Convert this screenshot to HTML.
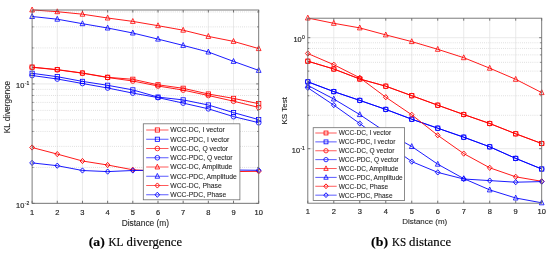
<!DOCTYPE html><html><head><meta charset="utf-8"><style>html,body{margin:0;padding:0;background:#fff;width:550px;height:253px;overflow:hidden}svg{display:block;font-family:"Liberation Sans",sans-serif}</style></head><body><div style="will-change:transform;width:550px;height:253px"><svg width="550" height="253" viewBox="0 0 550 253"><line x1="57.28" y1="10.0" x2="57.28" y2="203.3" stroke="#e3e3e3" stroke-width="0.8"/>
<line x1="82.46" y1="10.0" x2="82.46" y2="203.3" stroke="#e3e3e3" stroke-width="0.8"/>
<line x1="107.63" y1="10.0" x2="107.63" y2="203.3" stroke="#e3e3e3" stroke-width="0.8"/>
<line x1="132.81" y1="10.0" x2="132.81" y2="203.3" stroke="#e3e3e3" stroke-width="0.8"/>
<line x1="157.99" y1="10.0" x2="157.99" y2="203.3" stroke="#e3e3e3" stroke-width="0.8"/>
<line x1="183.17" y1="10.0" x2="183.17" y2="203.3" stroke="#e3e3e3" stroke-width="0.8"/>
<line x1="208.34" y1="10.0" x2="208.34" y2="203.3" stroke="#e3e3e3" stroke-width="0.8"/>
<line x1="233.52" y1="10.0" x2="233.52" y2="203.3" stroke="#e3e3e3" stroke-width="0.8"/>
<line x1="32.1" y1="203.40" x2="258.7" y2="203.40" stroke="#e3e3e3" stroke-width="0.8"/>
<line x1="32.1" y1="203.40" x2="34.6" y2="203.40" stroke="#555" stroke-width="0.8"/>
<line x1="256.2" y1="203.40" x2="258.7" y2="203.40" stroke="#555" stroke-width="0.8"/>
<line x1="32.1" y1="167.43" x2="258.7" y2="167.43" stroke="#cfcfcf" stroke-width="0.8" stroke-dasharray="0.8 1.3"/>
<line x1="32.1" y1="167.43" x2="33.6" y2="167.43" stroke="#555" stroke-width="0.8"/>
<line x1="257.2" y1="167.43" x2="258.7" y2="167.43" stroke="#555" stroke-width="0.8"/>
<line x1="32.1" y1="146.38" x2="258.7" y2="146.38" stroke="#cfcfcf" stroke-width="0.8" stroke-dasharray="0.8 1.3"/>
<line x1="32.1" y1="146.38" x2="33.6" y2="146.38" stroke="#555" stroke-width="0.8"/>
<line x1="257.2" y1="146.38" x2="258.7" y2="146.38" stroke="#555" stroke-width="0.8"/>
<line x1="32.1" y1="131.45" x2="258.7" y2="131.45" stroke="#cfcfcf" stroke-width="0.8" stroke-dasharray="0.8 1.3"/>
<line x1="32.1" y1="131.45" x2="33.6" y2="131.45" stroke="#555" stroke-width="0.8"/>
<line x1="257.2" y1="131.45" x2="258.7" y2="131.45" stroke="#555" stroke-width="0.8"/>
<line x1="32.1" y1="119.87" x2="258.7" y2="119.87" stroke="#cfcfcf" stroke-width="0.8" stroke-dasharray="0.8 1.3"/>
<line x1="32.1" y1="119.87" x2="33.6" y2="119.87" stroke="#555" stroke-width="0.8"/>
<line x1="257.2" y1="119.87" x2="258.7" y2="119.87" stroke="#555" stroke-width="0.8"/>
<line x1="32.1" y1="110.41" x2="258.7" y2="110.41" stroke="#cfcfcf" stroke-width="0.8" stroke-dasharray="0.8 1.3"/>
<line x1="32.1" y1="110.41" x2="33.6" y2="110.41" stroke="#555" stroke-width="0.8"/>
<line x1="257.2" y1="110.41" x2="258.7" y2="110.41" stroke="#555" stroke-width="0.8"/>
<line x1="32.1" y1="102.41" x2="258.7" y2="102.41" stroke="#cfcfcf" stroke-width="0.8" stroke-dasharray="0.8 1.3"/>
<line x1="32.1" y1="102.41" x2="33.6" y2="102.41" stroke="#555" stroke-width="0.8"/>
<line x1="257.2" y1="102.41" x2="258.7" y2="102.41" stroke="#555" stroke-width="0.8"/>
<line x1="32.1" y1="95.48" x2="258.7" y2="95.48" stroke="#cfcfcf" stroke-width="0.8" stroke-dasharray="0.8 1.3"/>
<line x1="32.1" y1="95.48" x2="33.6" y2="95.48" stroke="#555" stroke-width="0.8"/>
<line x1="257.2" y1="95.48" x2="258.7" y2="95.48" stroke="#555" stroke-width="0.8"/>
<line x1="32.1" y1="89.37" x2="258.7" y2="89.37" stroke="#cfcfcf" stroke-width="0.8" stroke-dasharray="0.8 1.3"/>
<line x1="32.1" y1="89.37" x2="33.6" y2="89.37" stroke="#555" stroke-width="0.8"/>
<line x1="257.2" y1="89.37" x2="258.7" y2="89.37" stroke="#555" stroke-width="0.8"/>
<line x1="32.1" y1="83.90" x2="258.7" y2="83.90" stroke="#e3e3e3" stroke-width="0.8"/>
<line x1="32.1" y1="83.90" x2="34.6" y2="83.90" stroke="#555" stroke-width="0.8"/>
<line x1="256.2" y1="83.90" x2="258.7" y2="83.90" stroke="#555" stroke-width="0.8"/>
<line x1="32.1" y1="47.93" x2="258.7" y2="47.93" stroke="#cfcfcf" stroke-width="0.8" stroke-dasharray="0.8 1.3"/>
<line x1="32.1" y1="47.93" x2="33.6" y2="47.93" stroke="#555" stroke-width="0.8"/>
<line x1="257.2" y1="47.93" x2="258.7" y2="47.93" stroke="#555" stroke-width="0.8"/>
<line x1="32.1" y1="26.88" x2="258.7" y2="26.88" stroke="#cfcfcf" stroke-width="0.8" stroke-dasharray="0.8 1.3"/>
<line x1="32.1" y1="26.88" x2="33.6" y2="26.88" stroke="#555" stroke-width="0.8"/>
<line x1="257.2" y1="26.88" x2="258.7" y2="26.88" stroke="#555" stroke-width="0.8"/>
<line x1="32.1" y1="11.95" x2="258.7" y2="11.95" stroke="#cfcfcf" stroke-width="0.8" stroke-dasharray="0.8 1.3"/>
<line x1="32.1" y1="11.95" x2="33.6" y2="11.95" stroke="#555" stroke-width="0.8"/>
<line x1="257.2" y1="11.95" x2="258.7" y2="11.95" stroke="#555" stroke-width="0.8"/>
<line x1="32.10" y1="203.3" x2="32.10" y2="200.8" stroke="#555" stroke-width="0.8"/>
<line x1="32.10" y1="10.0" x2="32.10" y2="12.5" stroke="#555" stroke-width="0.8"/>
<line x1="57.28" y1="203.3" x2="57.28" y2="200.8" stroke="#555" stroke-width="0.8"/>
<line x1="57.28" y1="10.0" x2="57.28" y2="12.5" stroke="#555" stroke-width="0.8"/>
<line x1="82.46" y1="203.3" x2="82.46" y2="200.8" stroke="#555" stroke-width="0.8"/>
<line x1="82.46" y1="10.0" x2="82.46" y2="12.5" stroke="#555" stroke-width="0.8"/>
<line x1="107.63" y1="203.3" x2="107.63" y2="200.8" stroke="#555" stroke-width="0.8"/>
<line x1="107.63" y1="10.0" x2="107.63" y2="12.5" stroke="#555" stroke-width="0.8"/>
<line x1="132.81" y1="203.3" x2="132.81" y2="200.8" stroke="#555" stroke-width="0.8"/>
<line x1="132.81" y1="10.0" x2="132.81" y2="12.5" stroke="#555" stroke-width="0.8"/>
<line x1="157.99" y1="203.3" x2="157.99" y2="200.8" stroke="#555" stroke-width="0.8"/>
<line x1="157.99" y1="10.0" x2="157.99" y2="12.5" stroke="#555" stroke-width="0.8"/>
<line x1="183.17" y1="203.3" x2="183.17" y2="200.8" stroke="#555" stroke-width="0.8"/>
<line x1="183.17" y1="10.0" x2="183.17" y2="12.5" stroke="#555" stroke-width="0.8"/>
<line x1="208.34" y1="203.3" x2="208.34" y2="200.8" stroke="#555" stroke-width="0.8"/>
<line x1="208.34" y1="10.0" x2="208.34" y2="12.5" stroke="#555" stroke-width="0.8"/>
<line x1="233.52" y1="203.3" x2="233.52" y2="200.8" stroke="#555" stroke-width="0.8"/>
<line x1="233.52" y1="10.0" x2="233.52" y2="12.5" stroke="#555" stroke-width="0.8"/>
<line x1="258.70" y1="203.3" x2="258.70" y2="200.8" stroke="#555" stroke-width="0.8"/>
<line x1="258.70" y1="10.0" x2="258.70" y2="12.5" stroke="#555" stroke-width="0.8"/>
<polyline points="32.10,67.10 57.28,69.60 82.46,73.00 107.63,77.30 132.81,79.30 157.99,84.80 183.17,88.30 208.34,94.00 233.52,98.40 258.70,103.70" fill="none" stroke="#ff0000" stroke-width="0.9"/>
<rect x="29.98" y="64.97" width="4.25" height="4.25" fill="none" stroke="#ff0000" stroke-width="0.8"/><rect x="55.15" y="67.47" width="4.25" height="4.25" fill="none" stroke="#ff0000" stroke-width="0.8"/><rect x="80.33" y="70.88" width="4.25" height="4.25" fill="none" stroke="#ff0000" stroke-width="0.8"/><rect x="105.51" y="75.17" width="4.25" height="4.25" fill="none" stroke="#ff0000" stroke-width="0.8"/><rect x="130.69" y="77.17" width="4.25" height="4.25" fill="none" stroke="#ff0000" stroke-width="0.8"/><rect x="155.86" y="82.67" width="4.25" height="4.25" fill="none" stroke="#ff0000" stroke-width="0.8"/><rect x="181.04" y="86.17" width="4.25" height="4.25" fill="none" stroke="#ff0000" stroke-width="0.8"/><rect x="206.22" y="91.88" width="4.25" height="4.25" fill="none" stroke="#ff0000" stroke-width="0.8"/><rect x="231.40" y="96.28" width="4.25" height="4.25" fill="none" stroke="#ff0000" stroke-width="0.8"/><rect x="256.57" y="101.58" width="4.25" height="4.25" fill="none" stroke="#ff0000" stroke-width="0.8"/>
<polyline points="32.10,73.30 57.28,76.70 82.46,81.40 107.63,85.30 132.81,89.90 157.99,97.10 183.17,99.90 208.34,105.00 233.52,112.60 258.70,119.60" fill="none" stroke="#0000ff" stroke-width="0.9"/>
<rect x="29.98" y="71.17" width="4.25" height="4.25" fill="none" stroke="#0000ff" stroke-width="0.8"/><rect x="55.15" y="74.58" width="4.25" height="4.25" fill="none" stroke="#0000ff" stroke-width="0.8"/><rect x="80.33" y="79.28" width="4.25" height="4.25" fill="none" stroke="#0000ff" stroke-width="0.8"/><rect x="105.51" y="83.17" width="4.25" height="4.25" fill="none" stroke="#0000ff" stroke-width="0.8"/><rect x="130.69" y="87.78" width="4.25" height="4.25" fill="none" stroke="#0000ff" stroke-width="0.8"/><rect x="155.86" y="94.97" width="4.25" height="4.25" fill="none" stroke="#0000ff" stroke-width="0.8"/><rect x="181.04" y="97.78" width="4.25" height="4.25" fill="none" stroke="#0000ff" stroke-width="0.8"/><rect x="206.22" y="102.88" width="4.25" height="4.25" fill="none" stroke="#0000ff" stroke-width="0.8"/><rect x="231.40" y="110.47" width="4.25" height="4.25" fill="none" stroke="#0000ff" stroke-width="0.8"/><rect x="256.57" y="117.47" width="4.25" height="4.25" fill="none" stroke="#0000ff" stroke-width="0.8"/>
<polyline points="32.10,67.30 57.28,69.80 82.46,73.20 107.63,77.50 132.81,81.00 157.99,86.00 183.17,90.10 208.34,95.50 233.52,101.20 258.70,107.40" fill="none" stroke="#ff0000" stroke-width="0.9"/>
<circle cx="32.10" cy="67.30" r="2.38" fill="none" stroke="#ff0000" stroke-width="0.8"/><circle cx="57.28" cy="69.80" r="2.38" fill="none" stroke="#ff0000" stroke-width="0.8"/><circle cx="82.46" cy="73.20" r="2.38" fill="none" stroke="#ff0000" stroke-width="0.8"/><circle cx="107.63" cy="77.50" r="2.38" fill="none" stroke="#ff0000" stroke-width="0.8"/><circle cx="132.81" cy="81.00" r="2.38" fill="none" stroke="#ff0000" stroke-width="0.8"/><circle cx="157.99" cy="86.00" r="2.38" fill="none" stroke="#ff0000" stroke-width="0.8"/><circle cx="183.17" cy="90.10" r="2.38" fill="none" stroke="#ff0000" stroke-width="0.8"/><circle cx="208.34" cy="95.50" r="2.38" fill="none" stroke="#ff0000" stroke-width="0.8"/><circle cx="233.52" cy="101.20" r="2.38" fill="none" stroke="#ff0000" stroke-width="0.8"/><circle cx="258.70" cy="107.40" r="2.38" fill="none" stroke="#ff0000" stroke-width="0.8"/>
<polyline points="32.10,75.50 57.28,79.00 82.46,83.50 107.63,88.00 132.81,93.10 157.99,97.60 183.17,103.10 208.34,108.80 233.52,116.60 258.70,122.70" fill="none" stroke="#0000ff" stroke-width="0.9"/>
<circle cx="32.10" cy="75.50" r="2.38" fill="none" stroke="#0000ff" stroke-width="0.8"/><circle cx="57.28" cy="79.00" r="2.38" fill="none" stroke="#0000ff" stroke-width="0.8"/><circle cx="82.46" cy="83.50" r="2.38" fill="none" stroke="#0000ff" stroke-width="0.8"/><circle cx="107.63" cy="88.00" r="2.38" fill="none" stroke="#0000ff" stroke-width="0.8"/><circle cx="132.81" cy="93.10" r="2.38" fill="none" stroke="#0000ff" stroke-width="0.8"/><circle cx="157.99" cy="97.60" r="2.38" fill="none" stroke="#0000ff" stroke-width="0.8"/><circle cx="183.17" cy="103.10" r="2.38" fill="none" stroke="#0000ff" stroke-width="0.8"/><circle cx="208.34" cy="108.80" r="2.38" fill="none" stroke="#0000ff" stroke-width="0.8"/><circle cx="233.52" cy="116.60" r="2.38" fill="none" stroke="#0000ff" stroke-width="0.8"/><circle cx="258.70" cy="122.70" r="2.38" fill="none" stroke="#0000ff" stroke-width="0.8"/>
<polyline points="32.10,9.90 57.28,11.70 82.46,14.20 107.63,18.00 132.81,21.40 157.99,25.70 183.17,30.20 208.34,36.40 233.52,41.40 258.70,48.60" fill="none" stroke="#ff0000" stroke-width="0.9"/>
<polygon points="32.10,7.03 34.48,11.90 29.73,11.90" fill="none" stroke="#ff0000" stroke-width="0.8"/><polygon points="57.28,8.82 59.65,13.70 54.90,13.70" fill="none" stroke="#ff0000" stroke-width="0.8"/><polygon points="82.46,11.32 84.83,16.20 80.08,16.20" fill="none" stroke="#ff0000" stroke-width="0.8"/><polygon points="107.63,15.12 110.01,20.00 105.26,20.00" fill="none" stroke="#ff0000" stroke-width="0.8"/><polygon points="132.81,18.52 135.19,23.40 130.44,23.40" fill="none" stroke="#ff0000" stroke-width="0.8"/><polygon points="157.99,22.82 160.36,27.70 155.61,27.70" fill="none" stroke="#ff0000" stroke-width="0.8"/><polygon points="183.17,27.32 185.54,32.20 180.79,32.20" fill="none" stroke="#ff0000" stroke-width="0.8"/><polygon points="208.34,33.52 210.72,38.40 205.97,38.40" fill="none" stroke="#ff0000" stroke-width="0.8"/><polygon points="233.52,38.52 235.90,43.40 231.15,43.40" fill="none" stroke="#ff0000" stroke-width="0.8"/><polygon points="258.70,45.73 261.07,50.60 256.32,50.60" fill="none" stroke="#ff0000" stroke-width="0.8"/>
<polyline points="32.10,16.50 57.28,19.20 82.46,23.70 107.63,28.00 132.81,33.00 157.99,39.10 183.17,45.40 208.34,52.00 233.52,61.40 258.70,70.40" fill="none" stroke="#0000ff" stroke-width="0.9"/>
<polygon points="32.10,13.62 34.48,18.50 29.73,18.50" fill="none" stroke="#0000ff" stroke-width="0.8"/><polygon points="57.28,16.32 59.65,21.20 54.90,21.20" fill="none" stroke="#0000ff" stroke-width="0.8"/><polygon points="82.46,20.82 84.83,25.70 80.08,25.70" fill="none" stroke="#0000ff" stroke-width="0.8"/><polygon points="107.63,25.12 110.01,30.00 105.26,30.00" fill="none" stroke="#0000ff" stroke-width="0.8"/><polygon points="132.81,30.12 135.19,35.00 130.44,35.00" fill="none" stroke="#0000ff" stroke-width="0.8"/><polygon points="157.99,36.23 160.36,41.10 155.61,41.10" fill="none" stroke="#0000ff" stroke-width="0.8"/><polygon points="183.17,42.52 185.54,47.40 180.79,47.40" fill="none" stroke="#0000ff" stroke-width="0.8"/><polygon points="208.34,49.12 210.72,54.00 205.97,54.00" fill="none" stroke="#0000ff" stroke-width="0.8"/><polygon points="233.52,58.52 235.90,63.40 231.15,63.40" fill="none" stroke="#0000ff" stroke-width="0.8"/><polygon points="258.70,67.53 261.07,72.40 256.32,72.40" fill="none" stroke="#0000ff" stroke-width="0.8"/>
<polyline points="32.10,147.50 57.28,154.10 82.46,161.00 107.63,165.00 132.81,169.80 157.99,171.20 183.17,171.50 208.34,171.60 233.52,171.60 258.70,171.30" fill="none" stroke="#ff0000" stroke-width="0.9"/>
<polygon points="32.10,144.88 34.48,147.50 32.10,150.12 29.73,147.50" fill="none" stroke="#ff0000" stroke-width="0.9"/><polygon points="57.28,151.47 59.65,154.10 57.28,156.72 54.90,154.10" fill="none" stroke="#ff0000" stroke-width="0.9"/><polygon points="82.46,158.38 84.83,161.00 82.46,163.62 80.08,161.00" fill="none" stroke="#ff0000" stroke-width="0.9"/><polygon points="107.63,162.38 110.01,165.00 107.63,167.62 105.26,165.00" fill="none" stroke="#ff0000" stroke-width="0.9"/><polygon points="132.81,167.18 135.19,169.80 132.81,172.43 130.44,169.80" fill="none" stroke="#ff0000" stroke-width="0.9"/><polygon points="157.99,168.57 160.36,171.20 157.99,173.82 155.61,171.20" fill="none" stroke="#ff0000" stroke-width="0.9"/><polygon points="183.17,168.88 185.54,171.50 183.17,174.12 180.79,171.50" fill="none" stroke="#ff0000" stroke-width="0.9"/><polygon points="208.34,168.97 210.72,171.60 208.34,174.22 205.97,171.60" fill="none" stroke="#ff0000" stroke-width="0.9"/><polygon points="233.52,168.97 235.90,171.60 233.52,174.22 231.15,171.60" fill="none" stroke="#ff0000" stroke-width="0.9"/><polygon points="258.70,168.68 261.07,171.30 258.70,173.93 256.32,171.30" fill="none" stroke="#ff0000" stroke-width="0.9"/>
<polyline points="32.10,162.90 57.28,165.70 82.46,170.50 107.63,171.60 132.81,170.50 157.99,170.20 183.17,170.00 208.34,170.00 233.52,170.00 258.70,170.30" fill="none" stroke="#0000ff" stroke-width="0.9"/>
<polygon points="32.10,160.28 34.48,162.90 32.10,165.53 29.73,162.90" fill="none" stroke="#0000ff" stroke-width="0.9"/><polygon points="57.28,163.07 59.65,165.70 57.28,168.32 54.90,165.70" fill="none" stroke="#0000ff" stroke-width="0.9"/><polygon points="82.46,167.88 84.83,170.50 82.46,173.12 80.08,170.50" fill="none" stroke="#0000ff" stroke-width="0.9"/><polygon points="107.63,168.97 110.01,171.60 107.63,174.22 105.26,171.60" fill="none" stroke="#0000ff" stroke-width="0.9"/><polygon points="132.81,167.88 135.19,170.50 132.81,173.12 130.44,170.50" fill="none" stroke="#0000ff" stroke-width="0.9"/><polygon points="157.99,167.57 160.36,170.20 157.99,172.82 155.61,170.20" fill="none" stroke="#0000ff" stroke-width="0.9"/><polygon points="183.17,167.38 185.54,170.00 183.17,172.62 180.79,170.00" fill="none" stroke="#0000ff" stroke-width="0.9"/><polygon points="208.34,167.38 210.72,170.00 208.34,172.62 205.97,170.00" fill="none" stroke="#0000ff" stroke-width="0.9"/><polygon points="233.52,167.38 235.90,170.00 233.52,172.62 231.15,170.00" fill="none" stroke="#0000ff" stroke-width="0.9"/><polygon points="258.70,167.68 261.07,170.30 258.70,172.93 256.32,170.30" fill="none" stroke="#0000ff" stroke-width="0.9"/>
<rect x="32.1" y="10.0" width="226.6" height="193.3" fill="none" stroke="#6e6e6e" stroke-width="0.9"/>
<text x="32.10" y="214.6" font-size="7.5" text-anchor="middle" fill="#262626" stroke="#262626" stroke-width="0.18">1</text>
<text x="57.28" y="214.6" font-size="7.5" text-anchor="middle" fill="#262626" stroke="#262626" stroke-width="0.18">2</text>
<text x="82.46" y="214.6" font-size="7.5" text-anchor="middle" fill="#262626" stroke="#262626" stroke-width="0.18">3</text>
<text x="107.63" y="214.6" font-size="7.5" text-anchor="middle" fill="#262626" stroke="#262626" stroke-width="0.18">4</text>
<text x="132.81" y="214.6" font-size="7.5" text-anchor="middle" fill="#262626" stroke="#262626" stroke-width="0.18">5</text>
<text x="157.99" y="214.6" font-size="7.5" text-anchor="middle" fill="#262626" stroke="#262626" stroke-width="0.18">6</text>
<text x="183.17" y="214.6" font-size="7.5" text-anchor="middle" fill="#262626" stroke="#262626" stroke-width="0.18">7</text>
<text x="208.34" y="214.6" font-size="7.5" text-anchor="middle" fill="#262626" stroke="#262626" stroke-width="0.18">8</text>
<text x="233.52" y="214.6" font-size="7.5" text-anchor="middle" fill="#262626" stroke="#262626" stroke-width="0.18">9</text>
<text x="258.70" y="214.6" font-size="7.5" text-anchor="middle" fill="#262626" stroke="#262626" stroke-width="0.18">10</text>
<text x="29.200000000000003" y="207.70" font-size="7.4" text-anchor="end" fill="#262626" stroke="#262626" stroke-width="0.18">10<tspan dx="0.4" dy="-3.1" font-size="5.0">-2</tspan></text>
<text x="29.200000000000003" y="88.20" font-size="7.4" text-anchor="end" fill="#262626" stroke="#262626" stroke-width="0.18">10<tspan dx="0.4" dy="-3.1" font-size="5.0">-1</tspan></text>
<text x="145.40" y="225.5" font-size="8.4" text-anchor="middle" fill="#262626" stroke="#262626" stroke-width="0.1">Distance (m)</text>
<text transform="translate(10.2,107.15) rotate(-90)" x="0" y="0" font-size="8.25" text-anchor="middle" fill="#262626" stroke="#262626" stroke-width="0.1">KL divergence</text>
<rect x="143.3" y="123.8" width="96.6" height="76.00000000000001" fill="#fff" stroke="#6e6e6e" stroke-width="0.8"/>
<line x1="146.2" y1="130.00" x2="168.5" y2="130.00" stroke="#ff0000" stroke-width="0.65"/>
<rect x="155.27" y="127.92" width="4.17" height="4.17" fill="none" stroke="#ff0000" stroke-width="0.8"/>
<text x="170.3" y="132.45" font-size="6.8" fill="#262626" stroke="#262626" stroke-width="0.08" >WCC-DC, I vector</text>
<line x1="146.2" y1="139.25" x2="168.5" y2="139.25" stroke="#0000ff" stroke-width="0.65"/>
<rect x="155.27" y="137.17" width="4.17" height="4.17" fill="none" stroke="#0000ff" stroke-width="0.8"/>
<text x="170.3" y="141.70" font-size="6.8" fill="#262626" stroke="#262626" stroke-width="0.08" >WCC-PDC, I vector</text>
<line x1="146.2" y1="148.50" x2="168.5" y2="148.50" stroke="#ff0000" stroke-width="0.65"/>
<circle cx="157.35" cy="148.50" r="2.33" fill="none" stroke="#ff0000" stroke-width="0.8"/>
<text x="170.3" y="150.95" font-size="6.8" fill="#262626" stroke="#262626" stroke-width="0.08" >WCC-DC, Q vector</text>
<line x1="146.2" y1="157.75" x2="168.5" y2="157.75" stroke="#0000ff" stroke-width="0.65"/>
<circle cx="157.35" cy="157.75" r="2.33" fill="none" stroke="#0000ff" stroke-width="0.8"/>
<text x="170.3" y="160.20" font-size="6.8" fill="#262626" stroke="#262626" stroke-width="0.08" >WCC-PDC, Q vector</text>
<line x1="146.2" y1="167.00" x2="168.5" y2="167.00" stroke="#ff0000" stroke-width="0.65"/>
<polygon points="157.35,164.18 159.68,168.96 155.02,168.96" fill="none" stroke="#ff0000" stroke-width="0.8"/>
<text x="170.3" y="169.45" font-size="6.8" fill="#262626" stroke="#262626" stroke-width="0.08" >WCC-DC, Amplitude</text>
<line x1="146.2" y1="176.25" x2="168.5" y2="176.25" stroke="#0000ff" stroke-width="0.65"/>
<polygon points="157.35,173.43 159.68,178.21 155.02,178.21" fill="none" stroke="#0000ff" stroke-width="0.8"/>
<text x="170.3" y="178.70" font-size="6.8" fill="#262626" stroke="#262626" stroke-width="0.08" >WCC-PDC, Amplitude</text>
<line x1="146.2" y1="185.50" x2="168.5" y2="185.50" stroke="#ff0000" stroke-width="0.65"/>
<polygon points="157.35,182.93 159.68,185.50 157.35,188.07 155.02,185.50" fill="none" stroke="#ff0000" stroke-width="0.9"/>
<text x="170.3" y="187.95" font-size="6.8" fill="#262626" stroke="#262626" stroke-width="0.08" >WCC-DC, Phase</text>
<line x1="146.2" y1="194.75" x2="168.5" y2="194.75" stroke="#0000ff" stroke-width="0.65"/>
<polygon points="157.35,192.18 159.68,194.75 157.35,197.32 155.02,194.75" fill="none" stroke="#0000ff" stroke-width="0.9"/>
<text x="170.3" y="197.20" font-size="6.8" fill="#262626" stroke="#262626" stroke-width="0.08" >WCC-PDC, Phase</text>
<line x1="333.79" y1="18.2" x2="333.79" y2="203.2" stroke="#e3e3e3" stroke-width="0.8"/>
<line x1="359.78" y1="18.2" x2="359.78" y2="203.2" stroke="#e3e3e3" stroke-width="0.8"/>
<line x1="385.77" y1="18.2" x2="385.77" y2="203.2" stroke="#e3e3e3" stroke-width="0.8"/>
<line x1="411.76" y1="18.2" x2="411.76" y2="203.2" stroke="#e3e3e3" stroke-width="0.8"/>
<line x1="437.74" y1="18.2" x2="437.74" y2="203.2" stroke="#e3e3e3" stroke-width="0.8"/>
<line x1="463.73" y1="18.2" x2="463.73" y2="203.2" stroke="#e3e3e3" stroke-width="0.8"/>
<line x1="489.72" y1="18.2" x2="489.72" y2="203.2" stroke="#e3e3e3" stroke-width="0.8"/>
<line x1="515.71" y1="18.2" x2="515.71" y2="203.2" stroke="#e3e3e3" stroke-width="0.8"/>
<line x1="307.8" y1="148.70" x2="541.7" y2="148.70" stroke="#e3e3e3" stroke-width="0.8"/>
<line x1="307.8" y1="148.70" x2="310.3" y2="148.70" stroke="#555" stroke-width="0.8"/>
<line x1="539.2" y1="148.70" x2="541.7" y2="148.70" stroke="#555" stroke-width="0.8"/>
<line x1="307.8" y1="115.29" x2="541.7" y2="115.29" stroke="#cfcfcf" stroke-width="0.8" stroke-dasharray="0.8 1.3"/>
<line x1="307.8" y1="115.29" x2="309.3" y2="115.29" stroke="#555" stroke-width="0.8"/>
<line x1="540.2" y1="115.29" x2="541.7" y2="115.29" stroke="#555" stroke-width="0.8"/>
<line x1="307.8" y1="95.74" x2="541.7" y2="95.74" stroke="#cfcfcf" stroke-width="0.8" stroke-dasharray="0.8 1.3"/>
<line x1="307.8" y1="95.74" x2="309.3" y2="95.74" stroke="#555" stroke-width="0.8"/>
<line x1="540.2" y1="95.74" x2="541.7" y2="95.74" stroke="#555" stroke-width="0.8"/>
<line x1="307.8" y1="81.87" x2="541.7" y2="81.87" stroke="#cfcfcf" stroke-width="0.8" stroke-dasharray="0.8 1.3"/>
<line x1="307.8" y1="81.87" x2="309.3" y2="81.87" stroke="#555" stroke-width="0.8"/>
<line x1="540.2" y1="81.87" x2="541.7" y2="81.87" stroke="#555" stroke-width="0.8"/>
<line x1="307.8" y1="71.11" x2="541.7" y2="71.11" stroke="#cfcfcf" stroke-width="0.8" stroke-dasharray="0.8 1.3"/>
<line x1="307.8" y1="71.11" x2="309.3" y2="71.11" stroke="#555" stroke-width="0.8"/>
<line x1="540.2" y1="71.11" x2="541.7" y2="71.11" stroke="#555" stroke-width="0.8"/>
<line x1="307.8" y1="62.33" x2="541.7" y2="62.33" stroke="#cfcfcf" stroke-width="0.8" stroke-dasharray="0.8 1.3"/>
<line x1="307.8" y1="62.33" x2="309.3" y2="62.33" stroke="#555" stroke-width="0.8"/>
<line x1="540.2" y1="62.33" x2="541.7" y2="62.33" stroke="#555" stroke-width="0.8"/>
<line x1="307.8" y1="54.89" x2="541.7" y2="54.89" stroke="#cfcfcf" stroke-width="0.8" stroke-dasharray="0.8 1.3"/>
<line x1="307.8" y1="54.89" x2="309.3" y2="54.89" stroke="#555" stroke-width="0.8"/>
<line x1="540.2" y1="54.89" x2="541.7" y2="54.89" stroke="#555" stroke-width="0.8"/>
<line x1="307.8" y1="48.46" x2="541.7" y2="48.46" stroke="#cfcfcf" stroke-width="0.8" stroke-dasharray="0.8 1.3"/>
<line x1="307.8" y1="48.46" x2="309.3" y2="48.46" stroke="#555" stroke-width="0.8"/>
<line x1="540.2" y1="48.46" x2="541.7" y2="48.46" stroke="#555" stroke-width="0.8"/>
<line x1="307.8" y1="42.78" x2="541.7" y2="42.78" stroke="#cfcfcf" stroke-width="0.8" stroke-dasharray="0.8 1.3"/>
<line x1="307.8" y1="42.78" x2="309.3" y2="42.78" stroke="#555" stroke-width="0.8"/>
<line x1="540.2" y1="42.78" x2="541.7" y2="42.78" stroke="#555" stroke-width="0.8"/>
<line x1="307.8" y1="37.70" x2="541.7" y2="37.70" stroke="#e3e3e3" stroke-width="0.8"/>
<line x1="307.8" y1="37.70" x2="310.3" y2="37.70" stroke="#555" stroke-width="0.8"/>
<line x1="539.2" y1="37.70" x2="541.7" y2="37.70" stroke="#555" stroke-width="0.8"/>
<line x1="307.80" y1="203.2" x2="307.80" y2="200.7" stroke="#555" stroke-width="0.8"/>
<line x1="307.80" y1="18.2" x2="307.80" y2="20.7" stroke="#555" stroke-width="0.8"/>
<line x1="333.79" y1="203.2" x2="333.79" y2="200.7" stroke="#555" stroke-width="0.8"/>
<line x1="333.79" y1="18.2" x2="333.79" y2="20.7" stroke="#555" stroke-width="0.8"/>
<line x1="359.78" y1="203.2" x2="359.78" y2="200.7" stroke="#555" stroke-width="0.8"/>
<line x1="359.78" y1="18.2" x2="359.78" y2="20.7" stroke="#555" stroke-width="0.8"/>
<line x1="385.77" y1="203.2" x2="385.77" y2="200.7" stroke="#555" stroke-width="0.8"/>
<line x1="385.77" y1="18.2" x2="385.77" y2="20.7" stroke="#555" stroke-width="0.8"/>
<line x1="411.76" y1="203.2" x2="411.76" y2="200.7" stroke="#555" stroke-width="0.8"/>
<line x1="411.76" y1="18.2" x2="411.76" y2="20.7" stroke="#555" stroke-width="0.8"/>
<line x1="437.74" y1="203.2" x2="437.74" y2="200.7" stroke="#555" stroke-width="0.8"/>
<line x1="437.74" y1="18.2" x2="437.74" y2="20.7" stroke="#555" stroke-width="0.8"/>
<line x1="463.73" y1="203.2" x2="463.73" y2="200.7" stroke="#555" stroke-width="0.8"/>
<line x1="463.73" y1="18.2" x2="463.73" y2="20.7" stroke="#555" stroke-width="0.8"/>
<line x1="489.72" y1="203.2" x2="489.72" y2="200.7" stroke="#555" stroke-width="0.8"/>
<line x1="489.72" y1="18.2" x2="489.72" y2="20.7" stroke="#555" stroke-width="0.8"/>
<line x1="515.71" y1="203.2" x2="515.71" y2="200.7" stroke="#555" stroke-width="0.8"/>
<line x1="515.71" y1="18.2" x2="515.71" y2="20.7" stroke="#555" stroke-width="0.8"/>
<line x1="541.70" y1="203.2" x2="541.70" y2="200.7" stroke="#555" stroke-width="0.8"/>
<line x1="541.70" y1="18.2" x2="541.70" y2="20.7" stroke="#555" stroke-width="0.8"/>
<polyline points="307.80,61.20 333.79,69.00 359.78,79.00 385.77,86.20 411.76,95.70 437.74,105.20 463.73,114.50 489.72,123.50 515.71,133.80 541.70,143.50" fill="none" stroke="#ff0000" stroke-width="0.9"/>
<rect x="305.68" y="59.08" width="4.25" height="4.25" fill="none" stroke="#ff0000" stroke-width="0.8"/><rect x="331.66" y="66.88" width="4.25" height="4.25" fill="none" stroke="#ff0000" stroke-width="0.8"/><rect x="357.65" y="76.88" width="4.25" height="4.25" fill="none" stroke="#ff0000" stroke-width="0.8"/><rect x="383.64" y="84.08" width="4.25" height="4.25" fill="none" stroke="#ff0000" stroke-width="0.8"/><rect x="409.63" y="93.58" width="4.25" height="4.25" fill="none" stroke="#ff0000" stroke-width="0.8"/><rect x="435.62" y="103.08" width="4.25" height="4.25" fill="none" stroke="#ff0000" stroke-width="0.8"/><rect x="461.61" y="112.38" width="4.25" height="4.25" fill="none" stroke="#ff0000" stroke-width="0.8"/><rect x="487.60" y="121.38" width="4.25" height="4.25" fill="none" stroke="#ff0000" stroke-width="0.8"/><rect x="513.59" y="131.68" width="4.25" height="4.25" fill="none" stroke="#ff0000" stroke-width="0.8"/><rect x="539.58" y="141.38" width="4.25" height="4.25" fill="none" stroke="#ff0000" stroke-width="0.8"/>
<polyline points="307.80,81.80 333.79,91.60 359.78,100.40 385.77,109.40 411.76,119.20 437.74,128.20 463.73,137.20 489.72,146.80 515.71,158.40 541.70,169.00" fill="none" stroke="#0000ff" stroke-width="0.9"/>
<rect x="305.68" y="79.67" width="4.25" height="4.25" fill="none" stroke="#0000ff" stroke-width="0.8"/><rect x="331.66" y="89.47" width="4.25" height="4.25" fill="none" stroke="#0000ff" stroke-width="0.8"/><rect x="357.65" y="98.28" width="4.25" height="4.25" fill="none" stroke="#0000ff" stroke-width="0.8"/><rect x="383.64" y="107.28" width="4.25" height="4.25" fill="none" stroke="#0000ff" stroke-width="0.8"/><rect x="409.63" y="117.08" width="4.25" height="4.25" fill="none" stroke="#0000ff" stroke-width="0.8"/><rect x="435.62" y="126.07" width="4.25" height="4.25" fill="none" stroke="#0000ff" stroke-width="0.8"/><rect x="461.61" y="135.07" width="4.25" height="4.25" fill="none" stroke="#0000ff" stroke-width="0.8"/><rect x="487.60" y="144.68" width="4.25" height="4.25" fill="none" stroke="#0000ff" stroke-width="0.8"/><rect x="513.59" y="156.28" width="4.25" height="4.25" fill="none" stroke="#0000ff" stroke-width="0.8"/><rect x="539.58" y="166.88" width="4.25" height="4.25" fill="none" stroke="#0000ff" stroke-width="0.8"/>
<polyline points="307.80,61.20 333.79,69.00 359.78,79.00 385.77,86.20 411.76,95.70 437.74,105.20 463.73,114.50 489.72,123.50 515.71,133.80 541.70,143.50" fill="none" stroke="#ff0000" stroke-width="0.9"/>
<circle cx="307.80" cy="61.20" r="2.38" fill="none" stroke="#ff0000" stroke-width="0.8"/><circle cx="333.79" cy="69.00" r="2.38" fill="none" stroke="#ff0000" stroke-width="0.8"/><circle cx="359.78" cy="79.00" r="2.38" fill="none" stroke="#ff0000" stroke-width="0.8"/><circle cx="385.77" cy="86.20" r="2.38" fill="none" stroke="#ff0000" stroke-width="0.8"/><circle cx="411.76" cy="95.70" r="2.38" fill="none" stroke="#ff0000" stroke-width="0.8"/><circle cx="437.74" cy="105.20" r="2.38" fill="none" stroke="#ff0000" stroke-width="0.8"/><circle cx="463.73" cy="114.50" r="2.38" fill="none" stroke="#ff0000" stroke-width="0.8"/><circle cx="489.72" cy="123.50" r="2.38" fill="none" stroke="#ff0000" stroke-width="0.8"/><circle cx="515.71" cy="133.80" r="2.38" fill="none" stroke="#ff0000" stroke-width="0.8"/><circle cx="541.70" cy="143.50" r="2.38" fill="none" stroke="#ff0000" stroke-width="0.8"/>
<polyline points="307.80,81.80 333.79,91.60 359.78,100.40 385.77,109.40 411.76,119.20 437.74,128.20 463.73,137.20 489.72,146.80 515.71,158.40 541.70,169.00" fill="none" stroke="#0000ff" stroke-width="0.9"/>
<circle cx="307.80" cy="81.80" r="2.38" fill="none" stroke="#0000ff" stroke-width="0.8"/><circle cx="333.79" cy="91.60" r="2.38" fill="none" stroke="#0000ff" stroke-width="0.8"/><circle cx="359.78" cy="100.40" r="2.38" fill="none" stroke="#0000ff" stroke-width="0.8"/><circle cx="385.77" cy="109.40" r="2.38" fill="none" stroke="#0000ff" stroke-width="0.8"/><circle cx="411.76" cy="119.20" r="2.38" fill="none" stroke="#0000ff" stroke-width="0.8"/><circle cx="437.74" cy="128.20" r="2.38" fill="none" stroke="#0000ff" stroke-width="0.8"/><circle cx="463.73" cy="137.20" r="2.38" fill="none" stroke="#0000ff" stroke-width="0.8"/><circle cx="489.72" cy="146.80" r="2.38" fill="none" stroke="#0000ff" stroke-width="0.8"/><circle cx="515.71" cy="158.40" r="2.38" fill="none" stroke="#0000ff" stroke-width="0.8"/><circle cx="541.70" cy="169.00" r="2.38" fill="none" stroke="#0000ff" stroke-width="0.8"/>
<polyline points="307.80,18.00 333.79,23.30 359.78,27.90 385.77,34.90 411.76,41.60 437.74,49.30 463.73,57.70 489.72,68.20 515.71,79.30 541.70,92.60" fill="none" stroke="#ff0000" stroke-width="0.9"/>
<polygon points="307.80,15.12 310.18,20.00 305.43,20.00" fill="none" stroke="#ff0000" stroke-width="0.8"/><polygon points="333.79,20.43 336.16,25.30 331.41,25.30" fill="none" stroke="#ff0000" stroke-width="0.8"/><polygon points="359.78,25.02 362.15,29.90 357.40,29.90" fill="none" stroke="#ff0000" stroke-width="0.8"/><polygon points="385.77,32.02 388.14,36.90 383.39,36.90" fill="none" stroke="#ff0000" stroke-width="0.8"/><polygon points="411.76,38.73 414.13,43.60 409.38,43.60" fill="none" stroke="#ff0000" stroke-width="0.8"/><polygon points="437.74,46.42 440.12,51.30 435.37,51.30" fill="none" stroke="#ff0000" stroke-width="0.8"/><polygon points="463.73,54.83 466.11,59.70 461.36,59.70" fill="none" stroke="#ff0000" stroke-width="0.8"/><polygon points="489.72,65.33 492.10,70.20 487.35,70.20" fill="none" stroke="#ff0000" stroke-width="0.8"/><polygon points="515.71,76.42 518.09,81.30 513.34,81.30" fill="none" stroke="#ff0000" stroke-width="0.8"/><polygon points="541.70,89.72 544.08,94.60 539.33,94.60" fill="none" stroke="#ff0000" stroke-width="0.8"/>
<polyline points="307.80,85.40 333.79,99.00 359.78,114.60 385.77,132.00 411.76,146.50 437.74,164.20 463.73,178.60 489.72,189.90 515.71,198.00 541.70,202.80" fill="none" stroke="#0000ff" stroke-width="0.9"/>
<polygon points="307.80,82.53 310.18,87.40 305.43,87.40" fill="none" stroke="#0000ff" stroke-width="0.8"/><polygon points="333.79,96.12 336.16,101.00 331.41,101.00" fill="none" stroke="#0000ff" stroke-width="0.8"/><polygon points="359.78,111.72 362.15,116.60 357.40,116.60" fill="none" stroke="#0000ff" stroke-width="0.8"/><polygon points="385.77,129.12 388.14,134.00 383.39,134.00" fill="none" stroke="#0000ff" stroke-width="0.8"/><polygon points="411.76,143.62 414.13,148.50 409.38,148.50" fill="none" stroke="#0000ff" stroke-width="0.8"/><polygon points="437.74,161.32 440.12,166.20 435.37,166.20" fill="none" stroke="#0000ff" stroke-width="0.8"/><polygon points="463.73,175.72 466.11,180.60 461.36,180.60" fill="none" stroke="#0000ff" stroke-width="0.8"/><polygon points="489.72,187.03 492.10,191.90 487.35,191.90" fill="none" stroke="#0000ff" stroke-width="0.8"/><polygon points="515.71,195.12 518.09,200.00 513.34,200.00" fill="none" stroke="#0000ff" stroke-width="0.8"/><polygon points="541.70,199.93 544.08,204.80 539.33,204.80" fill="none" stroke="#0000ff" stroke-width="0.8"/>
<polyline points="307.80,53.50 333.79,64.70 359.78,77.80 385.77,97.20 411.76,114.80 437.74,135.30 463.73,153.60 489.72,167.80 515.71,176.80 541.70,181.30" fill="none" stroke="#ff0000" stroke-width="0.9"/>
<polygon points="307.80,50.88 310.18,53.50 307.80,56.12 305.43,53.50" fill="none" stroke="#ff0000" stroke-width="0.9"/><polygon points="333.79,62.08 336.16,64.70 333.79,67.33 331.41,64.70" fill="none" stroke="#ff0000" stroke-width="0.9"/><polygon points="359.78,75.17 362.15,77.80 359.78,80.42 357.40,77.80" fill="none" stroke="#ff0000" stroke-width="0.9"/><polygon points="385.77,94.58 388.14,97.20 385.77,99.83 383.39,97.20" fill="none" stroke="#ff0000" stroke-width="0.9"/><polygon points="411.76,112.17 414.13,114.80 411.76,117.42 409.38,114.80" fill="none" stroke="#ff0000" stroke-width="0.9"/><polygon points="437.74,132.68 440.12,135.30 437.74,137.93 435.37,135.30" fill="none" stroke="#ff0000" stroke-width="0.9"/><polygon points="463.73,150.97 466.11,153.60 463.73,156.22 461.36,153.60" fill="none" stroke="#ff0000" stroke-width="0.9"/><polygon points="489.72,165.18 492.10,167.80 489.72,170.43 487.35,167.80" fill="none" stroke="#ff0000" stroke-width="0.9"/><polygon points="515.71,174.18 518.09,176.80 515.71,179.43 513.34,176.80" fill="none" stroke="#ff0000" stroke-width="0.9"/><polygon points="541.70,178.68 544.08,181.30 541.70,183.93 539.33,181.30" fill="none" stroke="#ff0000" stroke-width="0.9"/>
<polyline points="307.80,87.80 333.79,105.10 359.78,123.50 385.77,143.00 411.76,161.60 437.74,172.40 463.73,179.00 489.72,180.60 515.71,182.20 541.70,181.60" fill="none" stroke="#0000ff" stroke-width="0.9"/>
<polygon points="307.80,85.17 310.18,87.80 307.80,90.42 305.43,87.80" fill="none" stroke="#0000ff" stroke-width="0.9"/><polygon points="333.79,102.47 336.16,105.10 333.79,107.72 331.41,105.10" fill="none" stroke="#0000ff" stroke-width="0.9"/><polygon points="359.78,120.88 362.15,123.50 359.78,126.12 357.40,123.50" fill="none" stroke="#0000ff" stroke-width="0.9"/><polygon points="385.77,140.38 388.14,143.00 385.77,145.62 383.39,143.00" fill="none" stroke="#0000ff" stroke-width="0.9"/><polygon points="411.76,158.97 414.13,161.60 411.76,164.22 409.38,161.60" fill="none" stroke="#0000ff" stroke-width="0.9"/><polygon points="437.74,169.78 440.12,172.40 437.74,175.03 435.37,172.40" fill="none" stroke="#0000ff" stroke-width="0.9"/><polygon points="463.73,176.38 466.11,179.00 463.73,181.62 461.36,179.00" fill="none" stroke="#0000ff" stroke-width="0.9"/><polygon points="489.72,177.97 492.10,180.60 489.72,183.22 487.35,180.60" fill="none" stroke="#0000ff" stroke-width="0.9"/><polygon points="515.71,179.57 518.09,182.20 515.71,184.82 513.34,182.20" fill="none" stroke="#0000ff" stroke-width="0.9"/><polygon points="541.70,178.97 544.08,181.60 541.70,184.22 539.33,181.60" fill="none" stroke="#0000ff" stroke-width="0.9"/>
<rect x="307.8" y="18.2" width="233.90000000000003" height="185.0" fill="none" stroke="#6e6e6e" stroke-width="0.9"/>
<text x="307.80" y="214.3" font-size="7.5" text-anchor="middle" fill="#262626" stroke="#262626" stroke-width="0.18">1</text>
<text x="333.79" y="214.3" font-size="7.5" text-anchor="middle" fill="#262626" stroke="#262626" stroke-width="0.18">2</text>
<text x="359.78" y="214.3" font-size="7.5" text-anchor="middle" fill="#262626" stroke="#262626" stroke-width="0.18">3</text>
<text x="385.77" y="214.3" font-size="7.5" text-anchor="middle" fill="#262626" stroke="#262626" stroke-width="0.18">4</text>
<text x="411.76" y="214.3" font-size="7.5" text-anchor="middle" fill="#262626" stroke="#262626" stroke-width="0.18">5</text>
<text x="437.74" y="214.3" font-size="7.5" text-anchor="middle" fill="#262626" stroke="#262626" stroke-width="0.18">6</text>
<text x="463.73" y="214.3" font-size="7.5" text-anchor="middle" fill="#262626" stroke="#262626" stroke-width="0.18">7</text>
<text x="489.72" y="214.3" font-size="7.5" text-anchor="middle" fill="#262626" stroke="#262626" stroke-width="0.18">8</text>
<text x="515.71" y="214.3" font-size="7.5" text-anchor="middle" fill="#262626" stroke="#262626" stroke-width="0.18">9</text>
<text x="541.70" y="214.3" font-size="7.5" text-anchor="middle" fill="#262626" stroke="#262626" stroke-width="0.18">10</text>
<text x="304.90000000000003" y="153.00" font-size="7.4" text-anchor="end" fill="#262626" stroke="#262626" stroke-width="0.18">10<tspan dx="0.4" dy="-3.1" font-size="5.0">-1</tspan></text>
<text x="304.90000000000003" y="42.00" font-size="7.4" text-anchor="end" fill="#262626" stroke="#262626" stroke-width="0.18">10<tspan dx="0.4" dy="-3.1" font-size="5.0">0</tspan></text>
<text x="424.75" y="224.0" font-size="7.95" text-anchor="middle" fill="#262626" stroke="#262626" stroke-width="0.1">Distance (m)</text>
<text transform="translate(287.4,110.70) rotate(-90)" x="0" y="0" font-size="8.05" text-anchor="middle" fill="#262626" stroke="#262626" stroke-width="0.1">KS Test</text>
<rect x="313.2" y="127.7" width="91.40000000000003" height="72.8" fill="#fff" stroke="#6e6e6e" stroke-width="0.8"/>
<line x1="315.3" y1="133.00" x2="336.7" y2="133.00" stroke="#ff0000" stroke-width="0.65"/>
<rect x="324.05" y="131.04" width="3.91" height="3.91" fill="none" stroke="#ff0000" stroke-width="0.8"/>
<text x="338.7" y="135.36" font-size="6.55" fill="#262626" stroke="#262626" stroke-width="0.08" >WCC-DC, I vector</text>
<line x1="315.3" y1="141.88" x2="336.7" y2="141.88" stroke="#0000ff" stroke-width="0.65"/>
<rect x="324.05" y="139.92" width="3.91" height="3.91" fill="none" stroke="#0000ff" stroke-width="0.8"/>
<text x="338.7" y="144.24" font-size="6.55" fill="#262626" stroke="#262626" stroke-width="0.08" >WCC-PDC, I vector</text>
<line x1="315.3" y1="150.76" x2="336.7" y2="150.76" stroke="#ff0000" stroke-width="0.65"/>
<circle cx="326.00" cy="150.76" r="2.18" fill="none" stroke="#ff0000" stroke-width="0.8"/>
<text x="338.7" y="153.12" font-size="6.55" fill="#262626" stroke="#262626" stroke-width="0.08" >WCC-DC, Q vector</text>
<line x1="315.3" y1="159.64" x2="336.7" y2="159.64" stroke="#0000ff" stroke-width="0.65"/>
<circle cx="326.00" cy="159.64" r="2.18" fill="none" stroke="#0000ff" stroke-width="0.8"/>
<text x="338.7" y="162.00" font-size="6.55" fill="#262626" stroke="#262626" stroke-width="0.08" >WCC-PDC, Q vector</text>
<line x1="315.3" y1="168.52" x2="336.7" y2="168.52" stroke="#ff0000" stroke-width="0.65"/>
<polygon points="326.00,165.88 328.19,170.36 323.81,170.36" fill="none" stroke="#ff0000" stroke-width="0.8"/>
<text x="338.7" y="170.88" font-size="6.55" fill="#262626" stroke="#262626" stroke-width="0.08" >WCC-DC, Amplitude</text>
<line x1="315.3" y1="177.40" x2="336.7" y2="177.40" stroke="#0000ff" stroke-width="0.65"/>
<polygon points="326.00,174.75 328.19,179.24 323.81,179.24" fill="none" stroke="#0000ff" stroke-width="0.8"/>
<text x="338.7" y="179.76" font-size="6.55" fill="#262626" stroke="#262626" stroke-width="0.08" >WCC-PDC, Amplitude</text>
<line x1="315.3" y1="186.28" x2="336.7" y2="186.28" stroke="#ff0000" stroke-width="0.65"/>
<polygon points="326.00,183.87 328.19,186.28 326.00,188.69 323.81,186.28" fill="none" stroke="#ff0000" stroke-width="0.9"/>
<text x="338.7" y="188.64" font-size="6.55" fill="#262626" stroke="#262626" stroke-width="0.08" >WCC-DC, Phase</text>
<line x1="315.3" y1="195.16" x2="336.7" y2="195.16" stroke="#0000ff" stroke-width="0.65"/>
<polygon points="326.00,192.75 328.19,195.16 326.00,197.57 323.81,195.16" fill="none" stroke="#0000ff" stroke-width="0.9"/>
<text x="338.7" y="197.52" font-size="6.55" fill="#262626" stroke="#262626" stroke-width="0.08" >WCC-PDC, Phase</text><g font-family="Liberation Serif,serif" font-size="12.2" fill="#000" stroke="#000" stroke-width="0.15">
<text x="88.8" y="245.6" font-weight="bold" font-size="13" textLength="16.0" lengthAdjust="spacingAndGlyphs">(a)</text>
<text x="108.5" y="245.6" textLength="15.0" lengthAdjust="spacingAndGlyphs">KL</text>
<text x="126.6" y="245.6" textLength="55.5" lengthAdjust="spacingAndGlyphs">divergence</text>
<text x="371.1" y="245.6" font-weight="bold" font-size="13" textLength="16.9" lengthAdjust="spacingAndGlyphs">(b)</text>
<text x="392.0" y="245.6" textLength="14.2" lengthAdjust="spacingAndGlyphs">KS</text>
<text x="409.1" y="245.6" textLength="42.0" lengthAdjust="spacingAndGlyphs">distance</text></g></svg></div></body></html>
